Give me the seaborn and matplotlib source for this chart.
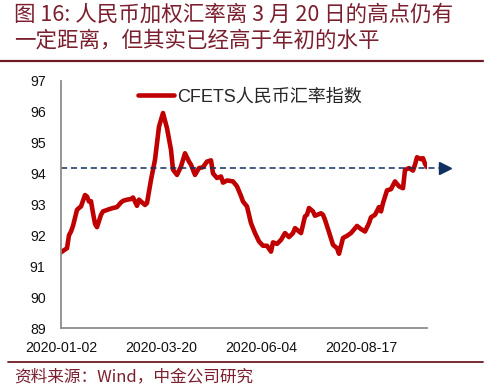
import seaborn as sns
import pandas as pd
import numpy as np
import matplotlib.pyplot as plt

# CFETS index: trading-day number since 2020-01-02 and index level
day = [0, 3, 4, 5, 6, 8, 9, 10, 12, 13, 14, 15, 16, 17, 18, 20, 21, 24, 26, 28,
       30, 31, 33, 35, 36, 38, 39, 40, 42, 43, 45, 47, 49, 51, 53, 55, 56, 58, 60, 62,
       64, 65, 67, 69, 71, 73, 75, 76, 78, 80, 81, 83, 86, 88, 90, 91, 93, 95, 97, 99,
       101, 103, 105, 106, 108, 110, 112, 114, 116, 117, 120, 122, 123, 124, 126, 127, 130, 131, 132, 134,
       136, 138, 139, 141, 143, 145, 148, 150, 152, 154, 155, 157, 159, 160, 161, 163, 165, 167, 169, 171,
       172, 174, 176, 177, 178, 180, 181, 182, 183]
cfets = [91.45, 91.58, 92.0, 92.12, 92.3, 92.82, 92.88, 92.93, 93.3, 93.25, 93.09, 93.1, 92.72, 92.37, 92.26, 92.66, 92.77, 92.84, 92.88, 92.91,
         93.06, 93.11, 93.15, 93.17, 93.22, 92.95, 93.15, 93.09, 92.98, 93.04, 93.79, 94.44, 95.51, 95.95, 95.46, 94.76, 94.12, 93.95, 94.22, 94.65,
         94.38, 94.28, 93.95, 94.17, 94.2, 94.38, 94.42, 94.0, 93.85, 93.9, 93.7, 93.77, 93.74, 93.58, 93.27, 93.09, 92.93, 92.39, 92.07, 91.8,
         91.66, 91.66, 91.47, 91.77, 91.72, 91.85, 92.07, 91.94, 92.07, 92.23, 92.07, 92.61, 92.66, 92.88, 92.77, 92.63, 92.71, 92.66, 92.5, 92.1,
         91.69, 91.58, 91.4, 91.91, 91.98, 92.07, 92.3, 92.2, 92.12, 92.39, 92.58, 92.66, 92.91, 92.77, 93.04, 93.45, 93.49, 93.74, 93.58, 93.52,
         94.11, 94.17, 94.09, 94.28, 94.52, 94.46, 94.49, 94.31, 94.2]
ref_level = 94.18  # dashed reference line

tick_days = [0, 50, 100, 150]
tick_labels = ['2020-01-02', '2020-03-20', '2020-06-04', '2020-08-17']

df = pd.DataFrame({'day': day, 'CFETS人民币汇率指数': cfets})

sns.set_style('white')
plt.rcParams['font.family'] = ['Liberation Sans', 'Noto Sans CJK SC', 'DejaVu Sans']

fig = plt.figure(figsize=(5, 3.91), dpi=100)
ax = fig.add_axes([0.122, 0.161, 0.732, 0.633])

sns.lineplot(data=df, x='day', y='CFETS人民币汇率指数', color='#c00000', linewidth=3.3,
             label='CFETS人民币汇率指数', ax=ax)

# dashed reference line running out past the axis, with an arrow head
ax.plot([0, 189], [ref_level, ref_level], ls=(0, (4, 2.5)), color='#12305f', lw=1.1, clip_on=False)
ax.plot([192], [ref_level], marker='>', ms=8, color='#12305f', clip_on=False)

ax.set_xlim(0, 183)
ax.set_ylim(89, 97)
ax.set_yticks(range(89, 98))
ax.set_xticks(tick_days)
ax.set_xticklabels(tick_labels)
ax.set_xticks(np.arange(25, 184, 50), minor=True)
ax.set_xlabel('')
ax.set_ylabel('')
for s in ['top', 'right']:
    ax.spines[s].set_visible(False)
for s in ['left', 'bottom']:
    ax.spines[s].set_color('#8c8c8c')
    ax.spines[s].set_linewidth(1.3)
ax.tick_params(axis='both', which='both', direction='in', color='#8c8c8c', width=1, labelsize=10.2, labelcolor='#111111')
ax.tick_params(axis='x', which='major', length=4, pad=9)
ax.tick_params(axis='x', which='minor', length=4)
ax.tick_params(axis='y', length=0, pad=11)

leg = ax.legend(loc='upper left', bbox_to_anchor=(0.165, 1.035), frameon=False,
                handlelength=2.0, handletextpad=0.2, fontsize=13)

# title, rules and source note
title_color = '#7b1f2e'
fig.text(0.028, 0.962, '图 16: 人民币加权汇率离 3 月 20 日的高点仍有', fontsize=15.5,
         color=title_color, style='italic', va='center', family=['Noto Sans CJK SC', 'DejaVu Sans'])
fig.text(0.028, 0.897, '一定距离，但其实已经高于年初的水平', fontsize=15.5,
         color=title_color, style='italic', va='center', family=['Noto Sans CJK SC', 'DejaVu Sans'])
fig.add_artist(plt.Line2D([0.0, 0.966], [0.844, 0.844], color='#6e1a22', lw=1.6))
fig.add_artist(plt.Line2D([0.016, 0.966], [0.074, 0.074], color='#6e1a22', lw=1.3))
fig.text(0.028, 0.036, '资料来源：Wind，中金公司研究', fontsize=12, color=title_color,
         style='italic', va='center', family=['Noto Sans CJK SC', 'DejaVu Sans'])

plt.savefig('out.png', dpi=100)
